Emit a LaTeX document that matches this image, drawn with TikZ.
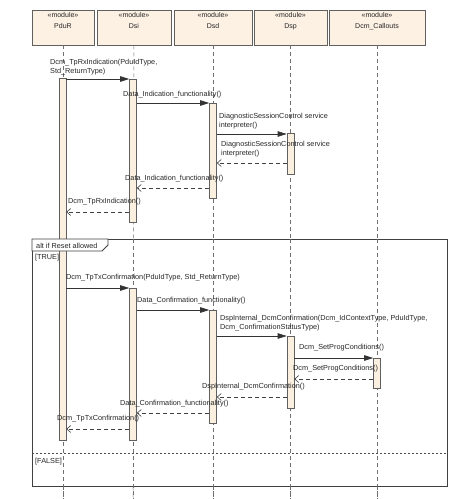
\documentclass[tikz,border=0pt]{standalone}
\usepackage{fontspec}
\setmainfont{Liberation Sans}
\usetikzlibrary{arrows.meta}
\definecolor{hdrfill}{HTML}{FCF1E3}
\definecolor{actfill}{HTML}{FBF0E0}
\definecolor{edge}{HTML}{606060}
\definecolor{lifec}{HTML}{707070}
\begin{document}
\begin{tikzpicture}[x=1pt,y=-1pt,
  txt/.style={font=\fontsize{7.3}{9}\selectfont, inner sep=0pt, align=left, text=black!85},
  hdr/.style={draw=edge, fill=hdrfill, line width=0.8pt, minimum height=35pt, inner sep=0pt},
  hdrtxt/.style={font=\fontsize{7}{11}\selectfont, inner sep=0pt, align=center, anchor=north, text=black!85},
  act/.style={draw=edge, fill=actfill, line width=0.6pt, minimum width=7pt, inner sep=0pt},
  life/.style={draw=lifec, line width=0.5pt, dash pattern=on 4pt off 3pt},
  call/.style={draw=black!80, line width=0.6pt, -{Triangle[length=9pt,width=5.5pt]}},
  ret/.style={draw=black!75, line width=0.6pt, dash pattern=on 4pt off 3pt, -{Straight Barb[length=4pt,width=7pt]}},
  frame/.style={draw=black!75, line width=0.8pt},
  sep/.style={draw=black!70, line width=0.6pt, dash pattern=on 2pt off 2pt}]
\useasboundingbox (0,0) rectangle (474,499);

% headers
\node[hdr, minimum width=62pt] (hP) at (63,27.5) {};
\node[hdr, minimum width=74pt] (hI) at (134,27.5) {};
\node[hdr, minimum width=78pt] (hD) at (213,27.5) {};
\node[hdr, minimum width=73pt] (hS) at (290.5,27.5) {};
\node[hdr, minimum width=96pt] (hC) at (377,27.5) {};
\foreach \n/\t in {hP/PduR, hI/Dsi, hD/Dsd, hS/Dsp, hC/Dcm\_Callouts}
  \node[hdrtxt] (\n t) at ([yshift=-2.5pt]\n.north) {«module»\\\t};

% lifelines
\coordinate (eP) at (63,499);
\coordinate (eI) at (133,499);
\coordinate (eD) at (213,499);
\coordinate (eS) at (290.5,499);
\coordinate (eC) at (377,499);
\draw[life] (hP.south) -- (eP);
\draw[life] (hI.south) -- (eI);
\draw[life] (hD.south) -- (eD);
\draw[life] (hS.south) -- (eS);
\draw[life] (hC.south) -- (eC);

% alt frame
\draw[frame, fill=white] (32,239) rectangle (447,486);
\coordinate (sepL) at (32,453);
\coordinate (sepR) at (447,453);
\draw[sep] (sepL) -- (sepR);

% lifelines inside frame
\draw[life] (63,239) -- (eP);
\draw[life] (133,239) -- (eI);
\draw[life] (213,239) -- (eD);
\draw[life] (290.5,239) -- (eS);
\draw[life] (377,239) -- (eC);

% activations
\node[act, minimum height=362pt] (pA) at (62.5,259) {};
\node[act, minimum height=143pt] (iA) at (133,150.5) {};
\node[act, minimum height=95pt] (dA) at (213,150.5) {};
\node[act, minimum height=41pt] (sA) at (290.5,153.5) {};
\node[act, minimum height=152pt] (iB) at (133,364) {};
\node[act, minimum height=113pt] (dB) at (213,366.5) {};
\node[act, minimum height=72pt] (sB) at (290.5,372) {};
\node[act, minimum height=30pt] (cB) at (377,373) {};

% frame label and guards (over the activation bar)
\draw[frame, fill=white] (32,239) -- (32,251) -- (102,251) -- (108,245) -- (108,239) -- cycle;
\node[txt, anchor=west] (altl) at (36,245.5) {alt if Reset allowed};
\node[txt, anchor=west] (tru) at (35,258) {[TRUE]};
\node[txt, anchor=west] (fal) at (35,462) {[FALSE]};

% messages, first block
\node[txt, anchor=west] (m1) at (50,67.5) {Dcm\_TpRxIndication(PduIdType,\\Std\_ReturnType)};
\draw[call] (pA.east |- 0,79) -- (iA.west |- 0,79);
\node[txt, anchor=west] (m2) at (123,95) {Data\_Indication\_functionality()};
\draw[call] (iA.east |- 0,103) -- (dA.west |- 0,103);
\node[txt, anchor=west] (m3) at (219,121) {DiagnosticSessionControl service\\interpreter()};
\draw[call] (dA.east |- 0,134) -- (sA.west |- 0,134);
\node[txt, anchor=west] (m4) at (221,149.5) {DiagnosticSessionControl service\\interpreter()};
\draw[ret] (sA.west |- 0,163) -- (dA.east |- 0,163);
\node[txt, anchor=west] (m5) at (125,179) {Data\_Indication\_functionality()};
\draw[ret] (dA.west |- 0,188) -- (iA.east |- 0,188);
\node[txt, anchor=west] (m6) at (68,202) {Dcm\_TpRxIndication()};
\draw[ret] (iA.west |- 0,212) -- (pA.east |- 0,212);

% messages, second block
\node[txt, anchor=west] (m7) at (66,278) {Dcm\_TpTxConfirmation(PduIdType, Std\_ReturnType)};
\draw[call] (pA.east |- 0,288) -- (iB.west |- 0,288);
\node[txt, anchor=west] (m8) at (137,301) {Data\_Confirmation\_functionality()};
\draw[call] (iB.east |- 0,310) -- (dB.west |- 0,310);
\node[txt, anchor=west] (m9) at (220,323.5) {DspInternal\_DcmConfirmation(Dcm\_IdContextType, PduIdType,\\Dcm\_ConfirmationStatusType)};
\draw[call] (dB.east |- 0,336) -- (sB.west |- 0,336);
\node[txt, anchor=west] (m10) at (299,348) {Dcm\_SetProgConditions()};
\draw[call] (sB.east |- 0,358) -- (cB.west |- 0,358);
\node[txt, anchor=west] (m11) at (293,369) {Dcm\_SetProgConditions()};
\draw[ret] (cB.west |- 0,379) -- (sB.east |- 0,379);
\node[txt, anchor=west] (m12) at (202,387) {DspInternal\_DcmConfirmation()};
\draw[ret] (sB.west |- 0,397) -- (dB.east |- 0,397);
\node[txt, anchor=west] (m13) at (120,404) {Data\_Confirmation\_functionality()};
\draw[ret] (dB.west |- 0,413) -- (iB.east |- 0,413);
\node[txt, anchor=west] (m14) at (57,419) {Dcm\_TpTxConfirmation()};
\draw[ret] (iB.west |- 0,429) -- (pA.east |- 0,429);
\end{tikzpicture}
\end{document}
